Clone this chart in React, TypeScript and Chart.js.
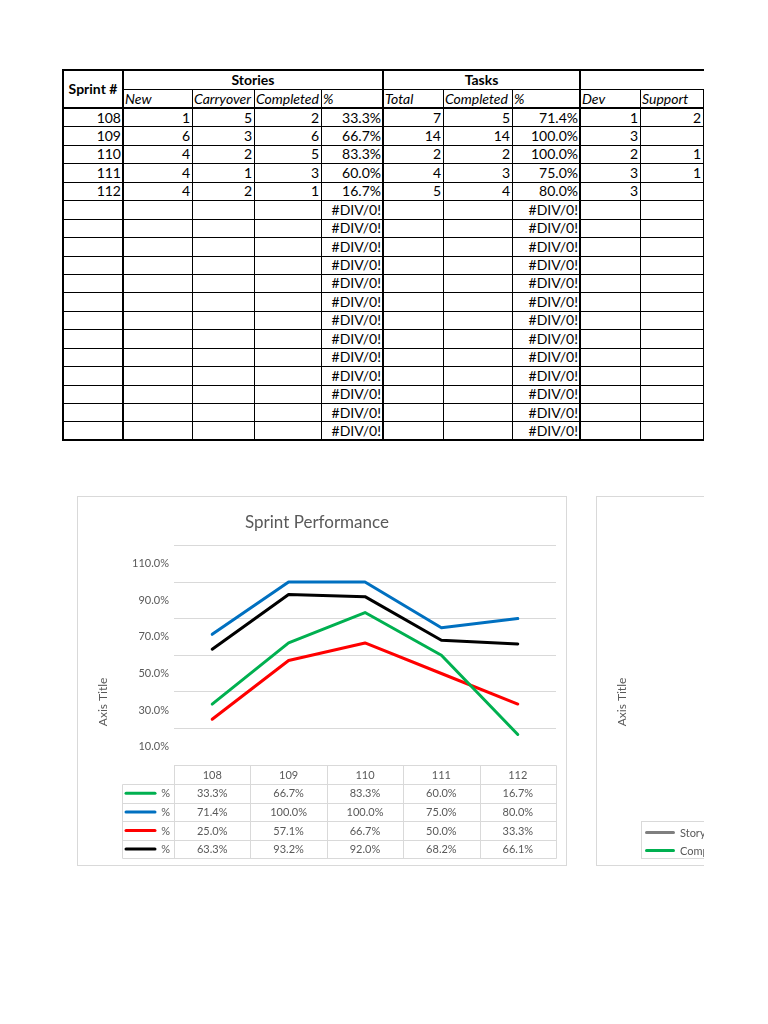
import React, { useEffect, useRef } from "react";
import { Chart, registerables } from "chart.js";

Chart.register(...registerables);

// ---------- data ----------
const sprints = ["108", "109", "110", "111", "112"];
const storiesNew = [1, 6, 4, 4, 4];
const storiesCarryover = [5, 3, 2, 1, 2];
const storiesCompleted = [2, 6, 5, 3, 1];
const storiesPct = [33.3, 66.7, 83.3, 60.0, 16.7];
const tasksTotal = [7, 14, 2, 4, 5];
const tasksCompleted = [5, 14, 2, 3, 4];
const tasksPct = [71.4, 100.0, 100.0, 75.0, 80.0];
const devCount = [1, 3, 2, 3, 3];
const supportCount: (number | null)[] = [2, null, 1, 1, null];
const redPct = [25.0, 57.1, 66.7, 50.0, 33.3];
const blackPct = [63.3, 93.2, 92.0, 68.2, 66.1];
const emptyRowCount = 13;
const errorText = "#DIV/0!";

const groupHeaders = ["Stories", "Tasks", ""];
const subHeaders = ["New", "Carryover", "Completed", "%", "Total", "Completed", "%", "Dev", "Support"];

const seriesLabels = ["%", "%", "%", "%"];
const seriesColors = ["#00B050", "#0070C0", "#FF0000", "#000000"];
const seriesData = [storiesPct, tasksPct, redPct, blackPct];

const yMin = 0;
const yMax = 120;
const yStep = 10;

const chartTitle = "Sprint Performance";
const axisTitle = "Axis Title";

const chart2Labels = ["Story Points", "Completed"];
const chart2Colors = ["#7F7F7F", "#00B050"];

// ---------- style ----------
const FONT = "Lato, 'Open Sans', 'DejaVu Sans', sans-serif";
const GRAY = "#595959";
const GRID = "#D9D9D9";

const fmtPct = (v: number) => v.toFixed(1) + "%";

// ---------- plugins ----------
const axisTitlePlugin = {
  id: "axisTitle",
  afterDraw(chart: any, _args: any, opts: any) {
    if (!opts || !opts.text) return;
    const ctx = chart.ctx;
    const ca = chart.chartArea;
    const y = opts.useTable ? (ca.top + ca.bottom + opts.tableHeight) / 2 : opts.y;
    ctx.save();
    ctx.translate(opts.x, y);
    ctx.rotate(-Math.PI / 2);
    ctx.font = `12px ${FONT}`;
    ctx.fillStyle = GRAY;
    ctx.textAlign = "center";
    ctx.textBaseline = "middle";
    ctx.fillText(opts.text, 0, 0);
    ctx.restore();
  },
};

const HEADER_H = 19;
const ROW_H = 18.6;

const dataTablePlugin = {
  id: "dataTable",
  afterDraw(chart: any) {
    const { ctx, chartArea } = chart;
    const xs = chart.scales.x;
    const labels: string[] = chart.data.labels;
    const n = labels.length;
    const left = chartArea.left;
    const right = chartArea.right;
    const colW = (right - left) / n;
    const top = chartArea.bottom;
    const datasets = chart.data.datasets;
    const legendLeft = left - 52;
    const bottom = top + HEADER_H + ROW_H * datasets.length;
    const px = (v: number) => Math.round(v) + 0.5;

    ctx.save();
    ctx.strokeStyle = GRID;
    ctx.lineWidth = 1;
    ctx.beginPath();
    ctx.moveTo(px(left), px(top));
    ctx.lineTo(px(right), px(top));
    for (let r = 0; r <= datasets.length; r++) {
      const y = px(top + HEADER_H + r * ROW_H);
      ctx.moveTo(px(legendLeft), y);
      ctx.lineTo(px(right), y);
    }
    for (let c = 0; c <= n; c++) {
      const x = px(left + c * colW);
      ctx.moveTo(x, px(top));
      ctx.lineTo(x, px(bottom));
    }
    ctx.moveTo(px(legendLeft), px(top + HEADER_H));
    ctx.lineTo(px(legendLeft), px(bottom));
    ctx.stroke();

    ctx.font = `11px ${FONT}`;
    ctx.fillStyle = GRAY;
    ctx.textBaseline = "middle";
    ctx.textAlign = "center";
    labels.forEach((lab, i) => {
      ctx.fillText(lab, xs.getPixelForValue(i), top + HEADER_H / 2 + 0.5);
    });
    datasets.forEach((ds: any, r: number) => {
      const yc = top + HEADER_H + r * ROW_H + ROW_H / 2 + 0.5;
      ctx.textAlign = "center";
      ctx.fillStyle = GRAY;
      ds.data.forEach((v: number, i: number) => {
        ctx.fillText(fmtPct(v), xs.getPixelForValue(i), yc);
      });
      ctx.textAlign = "right";
      ctx.fillText(ds.label, left - 4, yc);
      ctx.strokeStyle = ds.borderColor;
      ctx.lineWidth = 3;
      ctx.lineCap = "round";
      ctx.beginPath();
      ctx.moveTo(left - 48, yc - 0.5);
      ctx.lineTo(left - 19, yc - 0.5);
      ctx.stroke();
    });
    ctx.restore();
  },
};

// ---------- spreadsheet geometry ----------
const COLS = [63, 123, 192, 254, 321, 383, 443, 512, 580, 640, 703, 780];
const T_TOP = 70;
const T_MID = 89;
const T_HEAD = 108;
const T_ROW = 18.44;
const THICK_X = [63, 123, 383, 580];
const GROUP_SPANS = [
  [1, 5],
  [5, 8],
  [8, 11],
];

function Sheet() {
  const totalRows = sprints.length + emptyRowCount;
  const tBottom = T_HEAD + totalRows * T_ROW;
  const els: React.ReactNode[] = [];
  const baseText: React.CSSProperties = {
    position: "absolute",
    fontFamily: FONT,
    fontSize: 14,
    color: "#000",
    whiteSpace: "nowrap",
    overflow: "hidden",
    boxSizing: "border-box",
  };

  els.push(
    <div key="h-sprint" style={{ ...baseText, left: COLS[0], top: T_TOP, width: COLS[1] - COLS[0], height: T_HEAD - T_TOP, lineHeight: `${T_HEAD - T_TOP}px`, textAlign: "center", fontWeight: 700 }}>
      Sprint #
    </div>
  );
  GROUP_SPANS.forEach(([a, b], i) => {
    els.push(
      <div key={"g" + i} style={{ ...baseText, left: COLS[a], top: T_TOP, width: COLS[b] - COLS[a], height: T_MID - T_TOP, lineHeight: `${T_MID - T_TOP}px`, textAlign: "center", fontWeight: 700 }}>
        {groupHeaders[i]}
      </div>
    );
  });
  subHeaders.forEach((h, i) => {
    els.push(
      <div key={"s" + i} style={{ ...baseText, left: COLS[i + 1], top: T_MID, width: COLS[i + 2] - COLS[i + 1], height: T_HEAD - T_MID, lineHeight: `${T_HEAD - T_MID}px`, textAlign: "left", fontStyle: "italic", paddingLeft: 2 }}>
        {h}
      </div>
    );
  });

  for (let r = 0; r < totalRows; r++) {
    const has = r < sprints.length;
    const vals: (string | number)[] = has
      ? [
          sprints[r],
          storiesNew[r],
          storiesCarryover[r],
          storiesCompleted[r],
          fmtPct(storiesPct[r]),
          tasksTotal[r],
          tasksCompleted[r],
          fmtPct(tasksPct[r]),
          devCount[r],
          supportCount[r] ?? "",
        ]
      : ["", "", "", "", errorText, "", "", errorText, "", ""];
    const top = T_HEAD + r * T_ROW;
    vals.forEach((v, c) => {
      if (v === "") return;
      els.push(
        <div key={`d${r}-${c}`} style={{ ...baseText, left: COLS[c], top: top + 0.5, width: COLS[c + 1] - COLS[c], height: T_ROW, lineHeight: `${T_ROW}px`, textAlign: "right", paddingRight: 2 }}>
          {v}
        </div>
      );
    });
  }

  const hLine = (key: string, x1: number, x2: number, y: number, w: number) => (
    <div key={key} style={{ position: "absolute", left: x1, top: Math.round(y - w / 2), width: x2 - x1, height: w, background: "#000" }} />
  );
  const vLine = (key: string, x: number, y1: number, y2: number, w: number) => (
    <div key={key} style={{ position: "absolute", left: Math.round(x - w / 2), top: y1, width: w, height: y2 - y1, background: "#000" }} />
  );
  const right = COLS[COLS.length - 1];
  els.push(hLine("ht", COLS[0] - 1, right, T_TOP, 2));
  els.push(hLine("hm", COLS[1], right, T_MID, 1));
  els.push(hLine("hh", COLS[0] - 1, right, T_HEAD, 2));
  for (let r = 1; r < totalRows; r++) {
    els.push(hLine("hr" + r, COLS[0], right, Math.round(T_HEAD + r * T_ROW), 1));
  }
  els.push(hLine("hb", COLS[0] - 1, right, tBottom, 2));
  COLS.slice(0, COLS.length - 1).forEach((x, i) => {
    if (THICK_X.includes(x)) {
      els.push(vLine("vt" + i, x, T_TOP, tBottom, 2));
    } else {
      els.push(vLine("vn" + i, x, T_MID, tBottom, 1));
    }
  });

  return <>{els}</>;
}

// ---------- app ----------
export default function App() {
  const c1 = useRef<HTMLCanvasElement>(null);
  const c2 = useRef<HTMLCanvasElement>(null);

  useEffect(() => {
    const chart1 = new Chart(c1.current as HTMLCanvasElement, {
      type: "line",
      data: {
        labels: sprints,
        datasets: seriesData.map((d, i) => ({
          label: seriesLabels[i],
          data: d,
          borderColor: seriesColors[i],
          backgroundColor: seriesColors[i],
          borderWidth: 3,
          pointRadius: 0,
          tension: 0,
          fill: false,
          borderCapStyle: "round" as const,
          borderJoinStyle: "round" as const,
        })),
      },
      options: {
        responsive: false,
        animation: false,
        devicePixelRatio: 1,
        layout: { padding: { left: 0, right: 10, top: 0, bottom: 100 } },
        plugins: {
          legend: { display: false },
          tooltip: { enabled: false },
          title: {
            display: true,
            text: chartTitle,
            color: GRAY,
            font: { family: FONT, size: 17, weight: "normal" },
            padding: { top: 15, bottom: 13 },
          },
          axisTitle: { text: axisTitle, x: 25, useTable: true, tableHeight: HEADER_H + ROW_H * 4 },
        } as any,
        scales: {
          x: { display: false, offset: true },
          y: {
            min: yMin,
            max: yMax,
            afterFit: (s: any) => {
              s.width = 96;
            },
            ticks: {
              stepSize: yStep,
              autoSkip: false,
              color: GRAY,
              font: { family: FONT, size: 11 },
              padding: 5,
              callback: (v: any) => (Number(v) % 20 === 10 ? fmtPct(Number(v)) : ""),
            },
            grid: {
              drawTicks: false,
              lineWidth: 1,
              color: (ctx: any) => (ctx.tick && ctx.tick.value % 20 === 0 ? GRID : "rgba(0,0,0,0)"),
            },
            border: { display: false },
          },
        },
      },
      plugins: [dataTablePlugin, axisTitlePlugin],
    });

    const chart2 = new Chart(c2.current as HTMLCanvasElement, {
      type: "line",
      data: {
        labels: sprints,
        datasets: chart2Labels.map((l, i) => ({ label: l, data: [], borderColor: chart2Colors[i], borderWidth: 3, pointRadius: 0 })),
      },
      options: {
        responsive: false,
        animation: false,
        devicePixelRatio: 1,
        plugins: {
          legend: { display: false },
          tooltip: { enabled: false },
          axisTitle: { text: axisTitle, x: 25, y: 205 },
        } as any,
        scales: { x: { display: false }, y: { display: false } },
      },
      plugins: [axisTitlePlugin],
    });

    return () => {
      chart1.destroy();
      chart2.destroy();
    };
  }, []);

  return (
    <div style={{ position: "absolute", left: 0, top: 0, width: 704, height: 1024, overflow: "hidden", background: "#fff" }}>
      <Sheet />
      <div style={{ position: "absolute", left: 77, top: 496, width: 490, height: 370, boxSizing: "border-box", border: `1px solid ${GRID}` }}>
        <canvas ref={c1} width={488} height={368} style={{ position: "absolute", left: 0, top: 0, width: 488, height: 368 }} />
      </div>
      <div style={{ position: "absolute", left: 596, top: 496, width: 490, height: 370, boxSizing: "border-box", border: `1px solid ${GRID}` }}>
        <canvas ref={c2} width={488} height={368} style={{ position: "absolute", left: 0, top: 0, width: 488, height: 368 }} />
        <div style={{ position: "absolute", left: 44, top: 324, width: 200, height: 38, boxSizing: "border-box", border: `1px solid ${GRID}`, fontFamily: FONT, fontSize: 11, color: GRAY }}>
          {chart2Labels.map((l, i) => (
            <div key={l} style={{ position: "absolute", left: 3, top: 2 + i * 18, height: 16, display: "flex", alignItems: "center" }}>
              <div style={{ width: 30, height: 3, background: chart2Colors[i], borderRadius: 1.5 }} />
              <span style={{ marginLeft: 5 }}>{l}</span>
            </div>
          ))}
        </div>
      </div>
    </div>
  );
}
